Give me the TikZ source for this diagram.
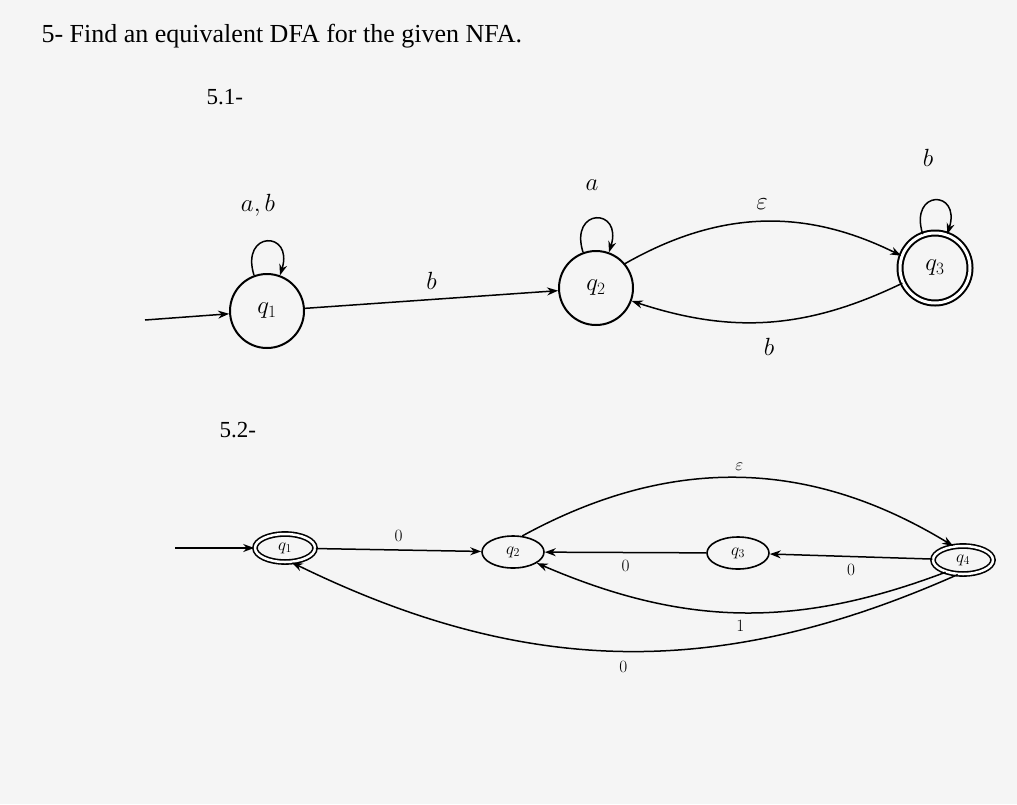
\documentclass[tikz,border=0pt]{standalone}
\usepackage{fontspec}
\setmainfont{Liberation Serif}
\usetikzlibrary{arrows.meta,shapes.geometric}
\newcommand{\bigq}[1]{\fontsize{26}{26}\selectfont$q_{#1}$}
\newcommand{\smq}[1]{\fontsize{18}{18}\selectfont$q_{#1}$}
\begin{document}
\begin{tikzpicture}[x=1pt,y=-1pt,
  st/.style={draw,line width=2pt,circle,minimum size=74pt,inner sep=0pt},
  acc/.style={st,double,double distance=3pt,minimum size=70pt},
  est/.style={draw,line width=1.6pt,ellipse,minimum width=62pt,minimum height=32pt,inner sep=0pt},
  eacc/.style={est,double,double distance=2.5pt,minimum width=60pt,minimum height=28pt},
  ed/.style={draw,line width=1.5pt,-{Stealth[length=11pt,width=8pt]}},
  lb/.style={font=\fontsize{26}{26}\selectfont},
  sl/.style={font=\fontsize{17}{17}\selectfont}]
\fill[gray!8] (0,0) rectangle (1017,804);
\useasboundingbox (0,0) rectangle (1017,804);
\node[anchor=west,font=\fontsize{26}{26}\selectfont] (t) at (38,36) {5- Find an equivalent DFA for the given NFA.};
\node[anchor=west,font=\fontsize{23}{23}\selectfont] (s1) at (203,97) {5.1-};
\node[anchor=west,font=\fontsize{23}{23}\selectfont] (s2) at (216,430) {5.2-};
% 5.1
\node[st] (a1) at (267,311) {\bigq1};
\node[st] (a2) at (596,288) {\bigq2};
\node[acc] (a3) at (935,268) {\bigq3};
\coordinate (sa) at (145,320);
\draw[ed] (sa) -- (a1);
\draw[ed] (a1) -- node[lb,above=6pt] {$b$} (a2);
\draw[ed] (a1.110) .. controls +(-14,-45) and +(14,-45) .. (a1.70);
\node[lb] (la1) at (258,205) {$a,b$};
\draw[ed] (a2.110) .. controls +(-14,-45) and +(14,-45) .. (a2.70);
\node[lb] (la2) at (592,185) {$a$};
\draw[ed] (a3.110) .. controls +(-14,-45) and +(14,-45) .. (a3.70);
\node[lb] (la3) at (928,158) {$b$};
\draw[ed] (a2.40) to[bend left=28] node[lb,above=8pt] {$\varepsilon$} (a3.160);
\draw[ed] (a3.205) to[bend left=22] node[lb,below=12pt] {$b$} (a2.-20);
% 5.2
\node[eacc] (b1) at (285,548) {\smq1};
\node[est] (b2) at (513,552) {\smq2};
\node[est] (b3) at (738,553) {\smq3};
\node[eacc] (b4) at (963,560) {\smq4};
\coordinate (sb) at (175,548);
\draw[ed] (sb) -- (b1);
\draw[ed] (b1) -- node[sl,above=4pt] {$0$} (b2);
\draw[ed] (b3) -- node[sl,below=4pt] {$0$} (b2);
\draw[ed] (b4) -- node[sl,below=4pt] {$0$} (b3);
\draw[ed] (b2.60) to[bend left=30] node[sl,above=3pt] {$\varepsilon$} (b4.125);
\draw[ed] (b4.215) to[bend left=22] node[sl,below=4pt] {$1$} (b2.-25);
\draw[ed] (b4.250) to[bend left=25] node[sl,below=6pt] {$0$} (b1.-65);
\end{tikzpicture}
\end{document}
